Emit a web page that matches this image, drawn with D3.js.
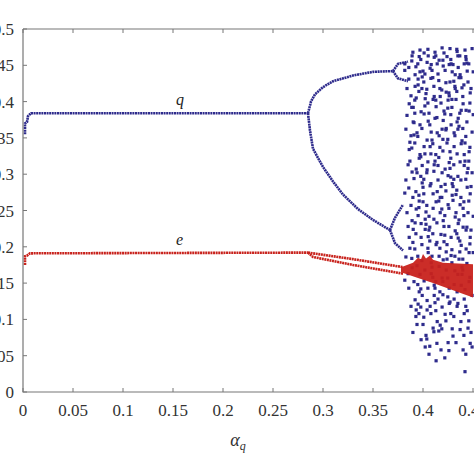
<!DOCTYPE html><html><head><meta charset="utf-8"><script src="https://cdn.jsdelivr.net/npm/d3@7"></script>
<style>body{margin:0;background:#fff}</style></head><body><svg id="c" width="474" height="474"></svg>
<script>
const xTicks=[0,0.05,0.1,0.15,0.2,0.25,0.3,0.35,0.4,0.45];
const yTicks=[0,0.05,0.1,0.15,0.2,0.25,0.3,0.35,0.4,0.45,0.5];
const qFlat=[[0.002,0.355],[0.002,0.37],[0.004,0.372],[0.005,0.38],[0.008,0.384],[0.285,0.384]];
const qUpper=[[0.285,0.384],[0.288,0.40],[0.292,0.41],[0.30,0.42],[0.31,0.428],[0.33,0.436],[0.35,0.441],[0.37,0.442]];
const qLower=[[0.285,0.384],[0.287,0.36],[0.29,0.335],[0.30,0.31],[0.31,0.29],[0.32,0.272],[0.335,0.252],[0.35,0.237],[0.367,0.223]];
const qUpA=[[0.37,0.442],[0.375,0.452],[0.385,0.455]];
const qUpB=[[0.37,0.442],[0.375,0.432],[0.385,0.428]];
const qLoA=[[0.367,0.223],[0.372,0.24],[0.38,0.258]];
const qLoB=[[0.367,0.223],[0.372,0.205],[0.38,0.195]];
const eFlat=[[0.002,0.175],[0.002,0.187],[0.004,0.188],[0.007,0.191],[0.285,0.192]];
const eBranchA=[[0.285,0.192],[0.33,0.183],[0.38,0.172]];
const eBranchB=[[0.285,0.192],[0.29,0.186],[0.33,0.175],[0.38,0.163]];
const eBandTop=[[0.378,0.172],[0.39,0.178],[0.395,0.185],[0.398,0.183],[0.40,0.19],[0.403,0.184],[0.407,0.188],[0.41,0.182],[0.42,0.178],[0.45,0.176]];
const eBandBot=[[0.45,0.13],[0.43,0.14],[0.41,0.15],[0.395,0.157],[0.378,0.165]];
const qChaosAlpha=[0.384,0.388,0.391,0.394,0.397,0.400,0.403,0.406,0.409,0.412,0.415,0.418,0.421,0.424,0.427,0.430,0.433,0.436,0.439,0.442,0.445,0.448];
const qChaosVals=[
[0.443,0.418,0.397,0.362,0.313,0.274,0.247,0.213,0.186,0.163,0.452,0.381,0.334,0.292,0.228,0.154],
[0.463,0.431,0.408,0.372,0.344,0.303,0.281,0.257,0.224,0.198,0.171,0.143,0.118,0.392,0.318,0.236,0.447,0.353],
[0.468,0.437,0.392,0.354,0.307,0.268,0.233,0.184,0.152,0.113,0.082,0.421,0.336,0.294,0.252,0.206,0.127,0.456,0.371,0.405],
[0.462,0.448,0.423,0.384,0.357,0.322,0.276,0.243,0.197,0.174,0.138,0.104,0.431,0.343,0.302,0.263,0.218,0.121,0.402,0.093],
[0.471,0.434,0.414,0.386,0.352,0.327,0.288,0.254,0.213,0.187,0.162,0.133,0.108,0.072,0.452,0.368,0.312,0.271,0.232,0.148,0.441],
[0.458,0.442,0.404,0.363,0.338,0.297,0.262,0.224,0.181,0.153,0.117,0.093,0.062,0.418,0.383,0.324,0.282,0.238,0.203,0.467,0.142],
[0.454,0.427,0.411,0.373,0.328,0.306,0.273,0.231,0.192,0.168,0.126,0.103,0.078,0.463,0.394,0.347,0.293,0.248,0.214,0.438,0.113],
[0.472,0.446,0.417,0.384,0.358,0.317,0.284,0.257,0.223,0.178,0.143,0.118,0.073,0.052,0.451,0.398,0.338,0.302,0.242,0.163,0.198],
[0.461,0.432,0.403,0.368,0.347,0.313,0.287,0.253,0.208,0.172,0.147,0.108,0.088,0.063,0.443,0.407,0.328,0.273,0.227,0.187,0.133],
[0.468,0.452,0.421,0.393,0.342,0.318,0.276,0.238,0.203,0.158,0.123,0.097,0.083,0.043,0.433,0.377,0.357,0.304,0.262,0.218,0.143],
[0.463,0.438,0.407,0.378,0.353,0.327,0.292,0.268,0.233,0.187,0.152,0.128,0.092,0.067,0.457,0.402,0.312,0.247,0.206,0.173,0.112],
[0.474,0.429,0.398,0.374,0.337,0.302,0.263,0.217,0.182,0.138,0.117,0.084,0.058,0.449,0.418,0.362,0.323,0.283,0.236,0.198,0.157],
[0.457,0.443,0.416,0.387,0.363,0.332,0.286,0.252,0.207,0.168,0.134,0.107,0.087,0.467,0.413,0.348,0.307,0.268,0.228,0.193,0.152],
[0.451,0.426,0.402,0.383,0.343,0.316,0.277,0.258,0.216,0.183,0.143,0.098,0.068,0.047,0.462,0.408,0.361,0.298,0.243,0.203,0.122],
[0.473,0.441,0.412,0.368,0.348,0.308,0.271,0.228,0.188,0.157,0.124,0.087,0.057,0.452,0.391,0.331,0.287,0.253,0.213,0.131,0.427],
[0.458,0.451,0.418,0.392,0.357,0.322,0.283,0.241,0.196,0.148,0.108,0.077,0.437,0.403,0.338,0.296,0.264,0.222,0.178,0.128,0.382],
[0.469,0.428,0.403,0.377,0.353,0.328,0.293,0.247,0.212,0.167,0.138,0.104,0.068,0.447,0.421,0.372,0.313,0.272,0.232,0.187,0.118],
[0.463,0.437,0.414,0.366,0.342,0.297,0.258,0.218,0.183,0.147,0.122,0.086,0.472,0.433,0.388,0.362,0.317,0.278,0.237,0.202,0.162],
[0.452,0.433,0.397,0.384,0.346,0.312,0.268,0.227,0.193,0.162,0.128,0.097,0.058,0.463,0.419,0.327,0.292,0.253,0.208,0.172,0.108],
[0.471,0.442,0.423,0.388,0.363,0.318,0.282,0.243,0.197,0.168,0.141,0.112,0.078,0.458,0.407,0.343,0.302,0.262,0.223,0.183,0.028],
[0.462,0.427,0.412,0.372,0.331,0.293,0.247,0.213,0.177,0.152,0.118,0.088,0.067,0.453,0.387,0.352,0.308,0.273,0.227,0.192,0.052],
[0.473,0.452,0.418,0.382,0.337,0.302,0.263,0.223,0.192,0.158,0.133,0.098,0.082,0.441,0.398,0.358,0.318,0.283,0.242,0.204,0.062]];
const labelQ={a:0.153,v:0.395,t:"q"}, labelE={a:0.153,v:0.203,t:"e"};

const svg=d3.select("#c");
const L=23,R=473,T=29,B=392;
const x=d3.scaleLinear().domain([0,0.45]).range([L,R]);
const y=d3.scaleLinear().domain([0,0.5]).range([B,T]);
const blue="#2e2b8c", red="#c8221c";
const line=d3.line().x(d=>x(d[0])).y(d=>y(d[1]));
const gp=svg.append("g");
function branch(data,col){gp.append("path").attr("d",line(data)).attr("fill","none").attr("stroke",col).attr("stroke-width",2.6).attr("stroke-dasharray","2,0.6");}
[qFlat,qUpper,qLower,qUpA,qUpB,qLoA,qLoB].forEach(d=>branch(d,blue));
[eFlat,eBranchA,eBranchB].forEach(d=>branch(d,red));
qChaosAlpha.forEach((a,i)=>qChaosVals[i].forEach((v,j)=>{
  const off=(((j*7+i*3)%5)-2)*0.0011;
  gp.append("rect").attr("x",x(a+off)-1.6).attr("y",y(v)-1.6).attr("width",3.2).attr("height",3.2).attr("fill",blue);
}));
gp.append("path").attr("d",line(eBandTop.concat(eBandBot))).attr("fill",red).attr("opacity",0.95);
svg.append("path").attr("d",`M${L},${T}H${R+5}M${L},${T}V${B}H${R+5}`).attr("stroke","#777").attr("stroke-width",1.2).attr("fill","none");
const ax=svg.append("g");
xTicks.forEach(t=>{
  ax.append("line").attr("x1",x(t)).attr("x2",x(t)).attr("y1",B).attr("y2",B-4).attr("stroke","#777");
  ax.append("line").attr("x1",x(t)).attr("x2",x(t)).attr("y1",T).attr("y2",T+4).attr("stroke","#777");
  ax.append("text").attr("x",x(t)).attr("y",B+24).attr("text-anchor","middle").attr("font-family","Liberation Serif").attr("font-size",17).attr("fill","#333").text(t);
});
yTicks.forEach(t=>{
  ax.append("line").attr("x1",L).attr("x2",L+4).attr("y1",y(t)).attr("y2",y(t)).attr("stroke","#777");
  ax.append("text").attr("x",14).attr("y",y(t)+6).attr("text-anchor","end").attr("font-family","Liberation Serif").attr("font-size",17).attr("fill","#333").text(t);
});
[labelQ,labelE].forEach(l=>svg.append("text").attr("x",x(l.a)).attr("y",y(l.v)).attr("font-family","Liberation Serif").attr("font-style","italic").attr("font-size",16).attr("fill","#222").text(l.t));
const xl=svg.append("text").attr("x",238).attr("y",446).attr("font-family","Liberation Serif").attr("font-size",18).attr("fill","#333").attr("text-anchor","middle");
xl.append("tspan").attr("font-style","italic").text("α");
xl.append("tspan").attr("font-style","italic").attr("font-size",12).attr("dy",4).text("q");
</script></body></html>
